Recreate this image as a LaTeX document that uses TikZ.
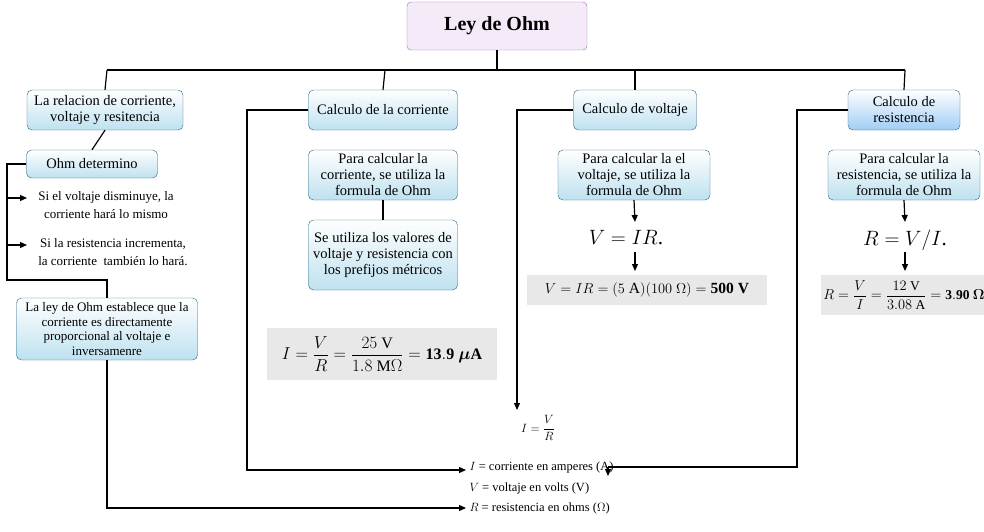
\documentclass[tikz,border=0pt]{standalone}
\usepackage{amsmath,amssymb,bm}
\usepackage{fontspec}
\setmainfont{Liberation Serif}
\usetikzlibrary{arrows.meta}
\definecolor{bx}{RGB}{40,100,125}
\definecolor{bfill}{RGB}{190,225,240}
\definecolor{dfill}{RGB}{160,205,245}
\definecolor{tfill}{RGB}{245,235,248}
\definecolor{tdraw}{RGB}{150,110,170}
\definecolor{gboxc}{RGB}{232,232,232}
\tikzset{
 bbox/.style={draw=bx,rounded corners=5pt,top color=white,bottom color=bfill,align=center,font=\fontsize{14.5}{16}\selectfont,inner sep=1pt},
 gbx/.style={fill=gboxc,inner sep=4pt},
 ln/.style={line width=1.2pt},
 ar/.style={line width=1.2pt,-{Triangle[length=7pt,width=6pt]}},
 note/.style={align=center,font=\fontsize{13}{18}\selectfont}
}
\begin{document}
\begin{tikzpicture}[x=1pt,y=-1pt]
\useasboundingbox (0,0) rectangle (984,532);
\node[draw=tdraw,rounded corners=4pt,fill=tfill,minimum width=180,minimum height=48,font=\fontsize{20}{24}\selectfont\bfseries] (T) at (497,26) {Ley de Ohm};
\node[bbox,minimum width=156,minimum height=40] (A) at (105,110) {La relacion de corriente,\\voltaje y resitencia};
\node[bbox,minimum width=149,minimum height=40] (B) at (383,110) {Calculo de la corriente};
\node[bbox,minimum width=123,minimum height=40] (C) at (635,110) {Calculo de voltaje};
\node[bbox,bottom color=dfill,minimum width=112,minimum height=40] (D) at (904,110) {Calculo de\\resistencia};
\coordinate (J) at (497,70);
\draw[ln] (T.south) -- (J);
\draw[ln] (107,70) -- (905,70);
\draw[ln] (107,70) -- (A.north);
\draw[ln] (385,70) -- (B.north);
\draw[ln] (635,70) -- (C.north);
\draw[ln] (905,70) -- (D.north);
% column A
\node[bbox,minimum width=131,minimum height=28] (O) at (92,164) {Ohm determino};
\draw[ln] (A.south) -- (O.north);
\node[note] (n1) at (106,205) {Si el voltaje disminuye, la\\corriente hará lo mismo};
\node[note] (n2) at (113,252) {Si la resistencia incrementa,\\la corriente\ \ también lo hará.};
\node[bbox,minimum width=181,minimum height=62,font=\fontsize{13}{14.5}\selectfont] (E) at (107,329) {La ley de Ohm establece que la\\corriente es directamente\\proporcional al voltaje e\\inversamenre};
\coordinate (L1) at (7,198); \coordinate (L2) at (7,245);
\draw[ln] (O.west) -| (7,280) -| (E.north);
\draw[ar] (L1) -- (27,198);
\draw[ar] (L2) -- (27,245);
% column B
\node[bbox,minimum width=149,minimum height=50] (B1) at (383,175) {Para calcular la\\corriente, se utiliza la\\formula de Ohm};
\node[bbox,minimum width=149,minimum height=70] (B2) at (383,255) {Se utiliza los valores de\\voltaje y resistencia con\\los prefijos métricos};
\draw[ln] (B1) -- (B2);
\node[gbx,minimum width=230,minimum height=52,font=\fontsize{16}{18}\selectfont] (FB) at (382,354) {$I=\dfrac{V}{R}=\dfrac{25\ \mathrm{V}}{1.8\ \mathrm{M}\Omega}=\mathbf{13.9\ \bm{\mu}A}$};
% column C
\node[bbox,minimum width=152,minimum height=50] (C1) at (634,175) {Para calcular la el\\voltaje, se utiliza la\\formula de Ohm};
\node[font=\fontsize{21}{24}\selectfont] (VIR) at (626,238) {$V=IR$.};
\draw[ar] (C1.south) -- (635,222);
\draw[ar] (635,252) -- (635,271);
\node[gbx,minimum width=240,minimum height=30,font=\fontsize{15.5}{17}\selectfont] (FC) at (647,290) {$V=IR=(5\ \mathrm{A})(100\ \Omega)=\mathbf{500\ V}$};
\node[font=\fontsize{13}{14}\selectfont] (IVR) at (538,428) {$I=\dfrac{V}{R}$};
\draw[ar] (C.west) -| (517,410);
% column D
\node[bbox,minimum width=152,minimum height=50] (D1) at (904,175) {Para calcular la\\resistencia, se utiliza la\\formula de Ohm};
\node[font=\fontsize{21}{24}\selectfont] (RVI) at (905,240) {$R=V/I$.};
\draw[ar] (D1.south) -- (905,222);
\draw[ar] (905,252) -- (905,271);
\node[gbx,minimum width=161,minimum height=40,font=\fontsize{13.5}{15}\selectfont,inner sep=2pt] (FD) at (904,295) {$R=\dfrac{V}{I}=\dfrac{12\ \mathrm{V}}{3.08\ \mathrm{A}}=\mathbf{3.90}\ \bm{\Omega}$};
% legend
\node[anchor=west,font=\fontsize{12.5}{15}\selectfont] (LI) at (466,467) {$I$ = corriente en amperes (A)};
\node[anchor=west,font=\fontsize{12.5}{15}\selectfont] (LV) at (466,488) {$V$ = voltaje en volts (V)};
\node[anchor=west,font=\fontsize{12.5}{15}\selectfont] (LR) at (466,508) {$R$ = resistencia en ohms ($\Omega$)};
\draw[ar] (B.west) -| (247,470) -- (LI.west |- 0,470);
\draw[ar] (E.south) |- (LR.west);
\coordinate (Dend) at (608,467);
\draw[ln] (D.west) -| (797,467) -- (Dend);
\draw[ar] (Dend) -- (608,476);
\end{tikzpicture}
\end{document}
